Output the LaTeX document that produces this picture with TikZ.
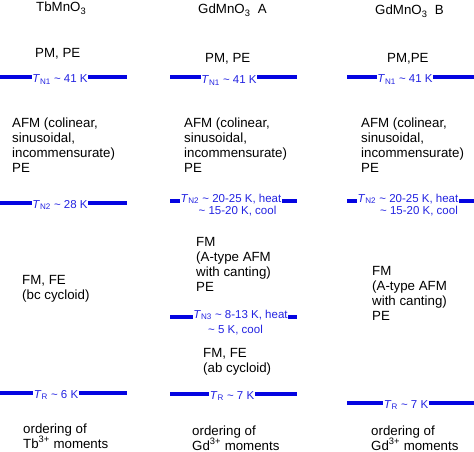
\documentclass[tikz,border=0pt]{standalone}
\usepackage{fontspec}
\setmainfont{Liberation Sans}
\usepackage{tikz}
\usetikzlibrary{positioning}

\definecolor{lineblue}{RGB}{5,5,225}
\definecolor{textblue}{RGB}{35,35,225}
\newcommand{\Ttr}[1]{\textit{T}\textsubscript{#1}}
\newcommand{\tld}{\textasciitilde\ }

\begin{document}
\begin{tikzpicture}[
  x=1pt,y=-1pt,
  font=\fontsize{13.3}{14.7}\selectfont,
  % base of a multi-line phase node = baseline of its last line
  phase/.style={anchor=base west,align=left,inner sep=0pt},
  tlabel/.style={anchor=base,inner xsep=0.6pt,inner ysep=0pt,text=textblue,font=\fontsize{11.5}{12.5}\selectfont},
  tline/.style={draw=lineblue,line width=3.2pt}
]
\useasboundingbox (0,0) rectangle (474,452);

% TbMnO3
\node[phase] (tb) at (36,12) {TbMnO\textsubscript{3}};
\node[phase] (tbPM) at (35,58) {PM, PE};
\node[phase] (tbAFM) at (12,172) {AFM (colinear,\\sinusoidal,\\incommensurate)\\PE};
\node[phase] (tbFE) at (22,299) {FM, FE\\(bc cycloid)};
\node[phase] (tbRE) at (23,448) {ordering of\\Tb\textsuperscript{3+}\ moments};

\node[tlabel] (tbN1) at (60,83) {\Ttr{N1} \tld 41 K};
\coordinate (tbN1-l) at (0,77);  \coordinate (tbN1-r) at (127,77);
\node[tlabel] (tbN2) at (60,208) {\Ttr{N2} \tld 28 K};
\coordinate (tbN2-l) at (0,203); \coordinate (tbN2-r) at (127,203);
\node[tlabel] (tbR) at (56,398) {\Ttr{R} \tld 6 K};
\coordinate (tbR-l) at (0,393);  \coordinate (tbR-r) at (127,393);

% GdMnO3, sample A
\node[phase] (ga) at (198,14) {GdMnO\textsubscript{3}\ \ A};
\node[phase] (gaPM) at (205,63) {PM, PE};
\node[phase] (gaAFM) at (184,172) {AFM (colinear,\\sinusoidal,\\incommensurate)\\PE};
\node[phase] (gaFM) at (196,291) {FM\\(A-type AFM\\with canting)\\PE};
\node[phase] (gaFE) at (203,372) {FM, FE\\(ab cycloid)};
\node[phase] (gaRE) at (192,450) {ordering of\\Gd\textsuperscript{3+}\ moments};

\node[tlabel] (gaN1) at (229,84) {\Ttr{N1} \tld 41 K};
\coordinate (gaN1-l) at (170,77); \coordinate (gaN1-r) at (297,77);
\node[tlabel] (gaN2) at (231,202) {\Ttr{N2} \tld 20-25 K, heat};
\node[tlabel] (gaN2c) at (237.5,214.5) {\tld 15-20 K, cool};
\coordinate (gaN2-l) at (170,201); \coordinate (gaN2-r) at (297,201);
\node[tlabel] (gaN3) at (240.5,318) {\Ttr{N3} \tld 8-13 K, heat};
\node[tlabel] (gaN3c) at (235.5,333) {\tld 5 K, cool};
\coordinate (gaN3-l) at (170,317); \coordinate (gaN3-r) at (297,317);
\node[tlabel] (gaR) at (232,399) {\Ttr{R} \tld 7 K};
\coordinate (gaR-l) at (170,394); \coordinate (gaR-r) at (297,394);

% GdMnO3, sample B
\node[phase] (gb) at (375,15) {GdMnO\textsubscript{3}\ \ B};
\node[phase] (gbPM) at (387,63) {PM,PE};
\node[phase] (gbAFM) at (361,172) {AFM (colinear,\\sinusoidal,\\incommensurate)\\PE};
\node[phase] (gbFM) at (372,320) {FM\\(A-type AFM\\with canting)\\PE};
\node[phase] (gbRE) at (371,450) {ordering of\\Gd\textsuperscript{3+}\ moments};

\node[tlabel] (gbN1) at (405,83) {\Ttr{N1} \tld 41 K};
\coordinate (gbN1-l) at (347,77); \coordinate (gbN1-r) at (474,77);
\node[tlabel] (gbN2) at (408,202) {\Ttr{N2} \tld 20-25 K, heat};
\node[tlabel] (gbN2c) at (419,214.5) {\tld 15-20 K, cool};
\coordinate (gbN2-l) at (347,201); \coordinate (gbN2-r) at (474,201);
\node[tlabel] (gbR) at (406,408) {\Ttr{R} \tld 7 K};
\coordinate (gbR-l) at (347,403); \coordinate (gbR-r) at (474,403);

% transition lines stop at the label on both sides
\foreach \n in {tbN1,tbN2,tbR,gaN1,gaN2,gaN3,gaR,gbN1,gbN2,gbR}{
  \draw[tline] (\n-l) -- (\n-l -| \n.west);
  \draw[tline] (\n-r -| \n.east) -- (\n-r);
}

\end{tikzpicture}
\end{document}
